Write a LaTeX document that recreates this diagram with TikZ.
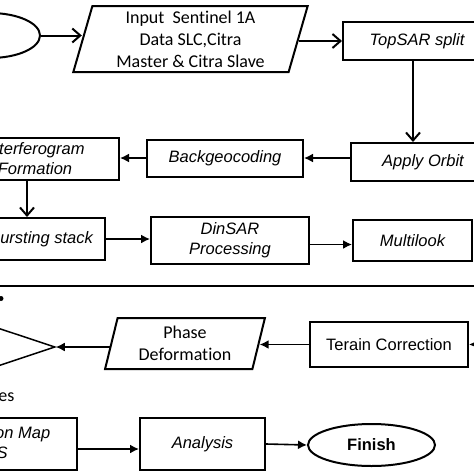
\documentclass[tikz,border=0pt]{standalone}
\usepackage{fontspec}
\setmainfont{Liberation Sans}
\newfontfamily\calibrifont[Ligatures=NoCommon]{Carlito}
\usetikzlibrary{shapes.geometric,arrows.meta,positioning,calc}

\newcommand{\arialsize}{\fontsize{16.5}{20}\selectfont}
\newcommand{\calibsize}{\fontsize{18}{22}\selectfont}

\begin{document}
\begin{tikzpicture}[
    x=1pt, y=-1pt,
    process/.style={rectangle, draw, line width=2pt, inner sep=1pt, align=center, font=\arialsize\itshape},
    plain/.style={rectangle, draw, line width=2pt, inner sep=1pt, align=center, font=\arialsize},
    data/.style={trapezium, trapezium stretches=true, trapezium left angle=76, trapezium right angle=104, draw, line width=2pt, inner sep=1pt, align=center, font=\calibrifont\calibsize},
    terminal/.style={ellipse, draw, line width=2pt, inner sep=0pt, font=\arialsize\bfseries},
    decision/.style={diamond, draw, line width=1.5pt, inner sep=0pt, aspect=3},
    barb/.style={-{Straight Barb[length=8pt, width=14pt]}, line width=2pt},
    arrow/.style={-{Latex[length=9pt, width=9pt]}, line width=1.6pt}
]
    \useasboundingbox (0,0) rectangle (474,474);
    \clip (0,0) rectangle (474,474);

    % Row 1
    \node[terminal, minimum width=100pt, minimum height=45pt] (start) at (-10,35.5) {};
    \node[data, minimum width=235pt, minimum height=66pt] (input) at (190.5,39) {Input\ \ Sentinel 1A\\Data SLC,Citra\\Master \& Citra Slave};
    \node[process, minimum width=148pt, minimum height=38pt] (topsar) at (417,41) {TopSAR split};

    % Row 2
    \node[process, minimum width=144pt, minimum height=38pt] (orbit) at (423,162) {Apply Orbit};
    \node[process, minimum width=156pt, minimum height=37pt] (backgeo) at (225,158) {Backgeocoding};
    \node[process, minimum width=168pt, minimum height=42pt] (interf) at (35,159) {Interferogram\\Formation};

    % Row 3
    \node[process, minimum width=147pt, minimum height=42pt] (burst) at (31.5,239) {Debursting stack};
    \node[process, minimum width=158pt, minimum height=47pt] (dinsar) at (230,240.5) {DinSAR\\Processing};
    \node[process, minimum width=119pt, minimum height=41pt] (multi) at (412.5,240.5) {Multilook};

    % Separator
    \draw[line width=1.5pt] (-10,286) -- (490,286);
    \fill (1,298.5) circle (2.5pt);

    % Row 4
    \coordinate (terrin) at (495,344);
    \node[plain, minimum width=158pt, minimum height=45pt] (terrain) at (389,344.5) {Terain Correction};
    \node[data, trapezium left angle=76.5, trapezium right angle=103.5, minimum width=160pt, minimum height=51pt] (phase) at (185,343.5) {Phase\\Deformation};
    \node[decision, minimum width=200pt, minimum height=67pt] (dia) at (-45,347) {};
    \node[font=\calibrifont\calibsize, anchor=east, inner sep=0pt] (yes) at (14.5,396) {Yes};

    % Row 5
    \node[process, minimum width=180pt, minimum height=52pt] (defmap) at (-13,444) {Deformation Map\\QGIS};
    \node[process, minimum width=125pt, minimum height=52pt] (analysis) at (202.5,444) {Analysis};
    \node[terminal, minimum width=127pt, minimum height=42pt] (finish) at (371.5,445) {Finish};

    % Arrows - upper flow
    \draw[barb] (start.east) -- (start.east -| input.west);
    \draw[barb] (input.east |- topsar.west) -- (topsar.west);
    \draw[barb] ([xshift=-4pt]topsar.south) -- ([xshift=-4pt]topsar.south |- orbit.north);
    \draw[arrow] (backgeo.east -| orbit.west) -- (backgeo.east);
    \draw[arrow] (backgeo.west) -- (backgeo.west -| interf.east);
    \draw[barb] ([xshift=-8pt]interf.south) -- ([xshift=-8pt]interf.south |- burst.north);
    \draw[arrow] (burst.east) -- (burst.east -| dinsar.west);
    \draw[arrow] ([yshift=-4pt]dinsar.east) -- ([yshift=-4pt]dinsar.east -| multi.west);

    % Arrows - lower flow
    \draw[arrow] (terrin) -- (terrain.east);
    \draw[arrow] (terrain.west) -- (terrain.west -| phase.east);
    \draw[arrow] (phase.west |- dia.east) -- (dia.east);
    \draw[arrow] ([yshift=-5pt]defmap.east) -- ([yshift=-5pt]defmap.east -| analysis.west);
    \draw[arrow] (analysis.east) -- (finish.west);
\end{tikzpicture}
\end{document}
